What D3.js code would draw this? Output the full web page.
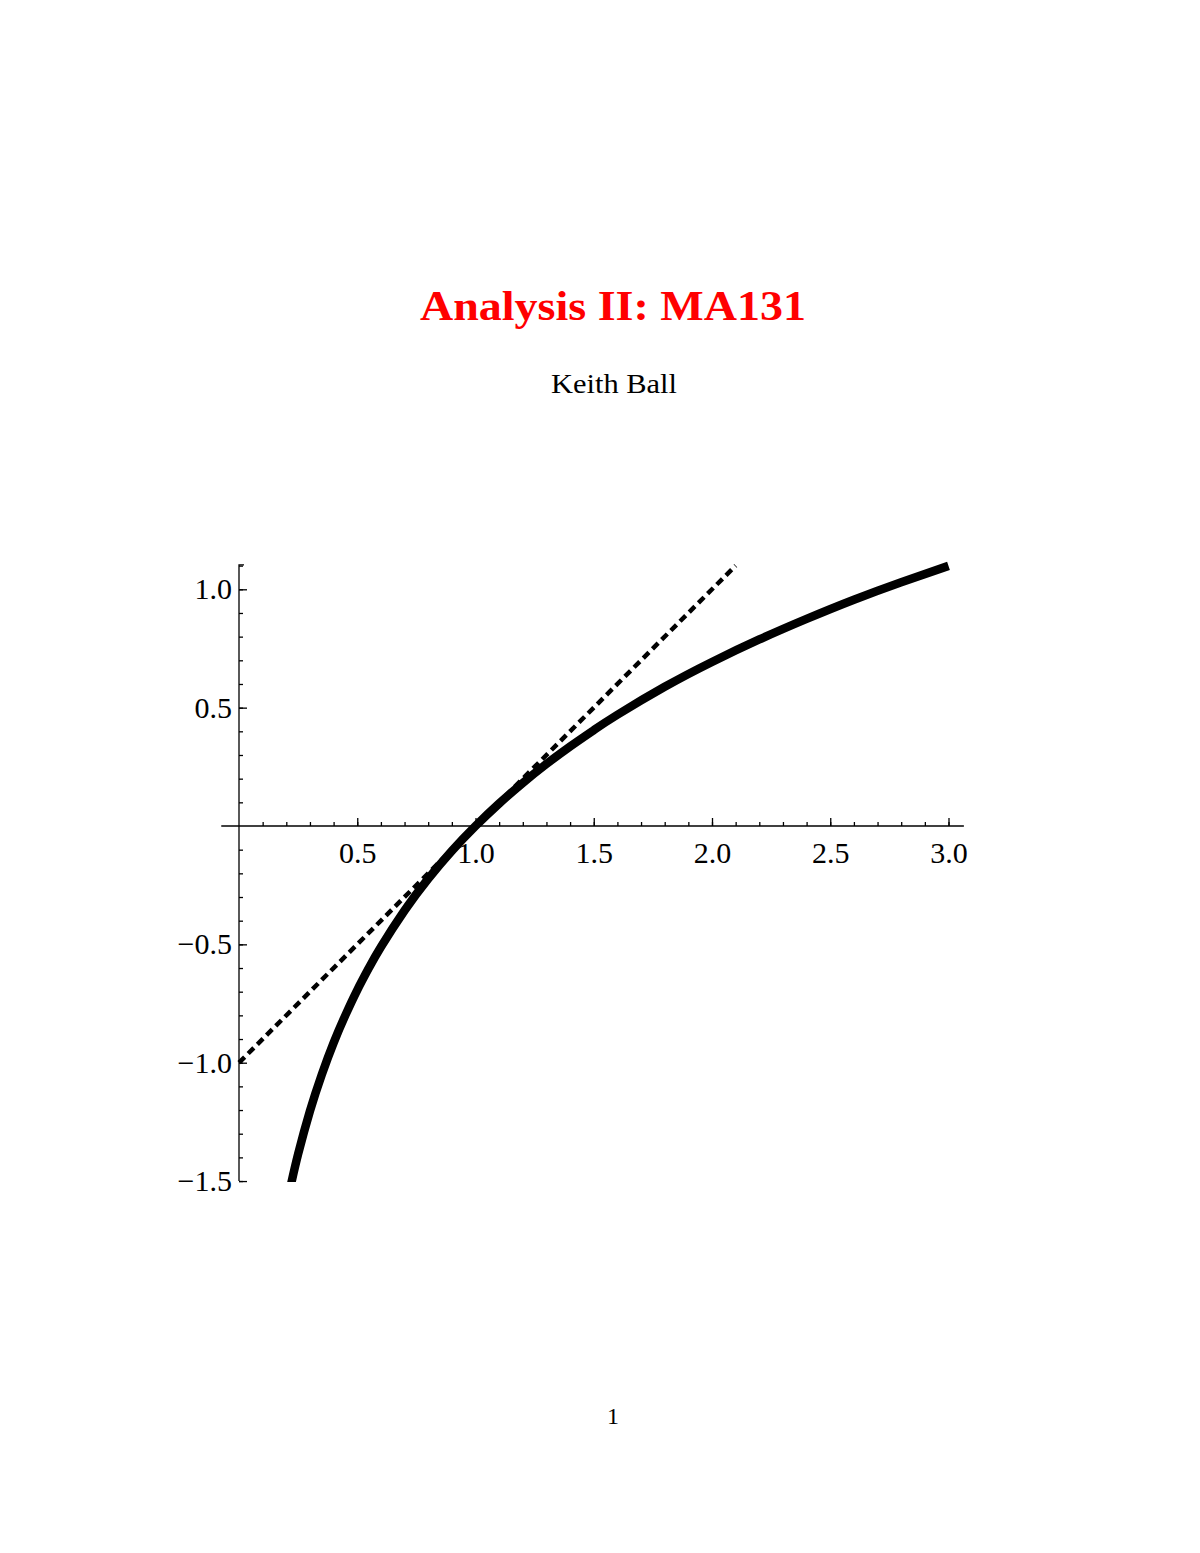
<!DOCTYPE html>
<html>
<head>
<meta charset="utf-8">
<script src="https://cdn.jsdelivr.net/npm/d3@7"></script>
<style>
  html, body { margin: 0; padding: 0; background: #fff; }
  svg { display: block; }
  .tick text { font-family: "Liberation Serif", "DejaVu Serif", serif; font-size: 30px; fill: #000; }
</style>
</head>
<body>
<svg id="page" width="1200" height="1553"></svg>
<script>
// curve
const curveX = [0.22, 0.25, 0.3, 0.35, 0.4, 0.45, 0.5, 0.55, 0.6, 0.7, 0.8, 0.9, 1.0,
                1.1, 1.2, 1.3, 1.4, 1.5, 1.6, 1.8, 2.0, 2.2, 2.4, 2.6, 2.8, 3.0];
const curveY = [-1.514, -1.386, -1.204, -1.050, -0.916, -0.799, -0.693, -0.598, -0.511, -0.357,
                -0.223, -0.105, 0, 0.095, 0.182, 0.262, 0.336, 0.405, 0.470, 0.588, 0.693,
                0.788, 0.875, 0.956, 1.030, 1.099];

// dashed line
const dashX = [0, 2.1];
const dashY = [-1, 1.1];

// ticks
const xMajor = [0.5, 1.0, 1.5, 2.0, 2.5, 3.0];
const yMajor = [-1.5, -1.0, -0.5, 0.5, 1.0];
const xMinor = d3.range(1, 31).map(i => i / 10);
const yMinor = d3.range(-15, 12).filter(i => i !== 0).map(i => i / 10);

const xExtent = [-0.075, 3.065];
const yExtent = [-1.5, 1.103];

const svg = d3.select("#page");

svg.append("text")
    .attr("x", 613).attr("y", 320)
    .attr("text-anchor", "middle")
    .attr("textLength", 386)
    .attr("lengthAdjust", "spacingAndGlyphs")
    .style("font-family", "'Liberation Serif', 'DejaVu Serif', serif")
    .style("font-weight", "bold")
    .style("font-size", "42px")
    .style("fill", "#ff0000")
    .text("Analysis II: MA131");

svg.append("text")
    .attr("x", 614).attr("y", 393)
    .attr("text-anchor", "middle")
    .attr("textLength", 126)
    .attr("lengthAdjust", "spacingAndGlyphs")
    .style("font-family", "'Liberation Serif', 'DejaVu Serif', serif")
    .style("font-size", "28px")
    .style("fill", "#000")
    .text("Keith Ball");

svg.append("text")
    .attr("x", 613).attr("y", 1424)
    .attr("text-anchor", "middle")
    .style("font-family", "'Liberation Serif', 'DejaVu Serif', serif")
    .style("font-size", "24px")
    .style("fill", "#000")
    .text("1");

const xscale = d3.scaleLinear().domain([0, 3]).range([239, 948.5]);
const yscale = d3.scaleLinear().domain([0, 1]).range([826, 589.3]);

const chart = svg.append("g");

// axis lines
chart.append("line")
    .attr("x1", xscale(xExtent[0])).attr("x2", xscale(xExtent[1]))
    .attr("y1", yscale(0)).attr("y2", yscale(0))
    .attr("stroke", "#000").attr("stroke-width", 1.3);

chart.append("path")
    .attr("d", `M${xscale(0) + 5},${yscale(yExtent[1])}H${xscale(0)}V${yscale(yExtent[0])}`)
    .attr("fill", "none")
    .attr("stroke", "#000").attr("stroke-width", 1.3);

const fmt = d => d3.format(".1f")(d).replace("-", "\u2212\u2009");

// x ticks
chart.append("g")
    .attr("transform", `translate(0, ${yscale(0)})`)
    .call(d3.axisBottom(xscale).tickValues(xMinor).tickSize(-4).tickFormat(""))
    .call(g => g.select(".domain").remove());

chart.append("g")
    .attr("transform", `translate(0, ${yscale(0)})`)
    .call(d3.axisBottom(xscale).tickValues(xMajor).tickSize(-8).tickPadding(16).tickFormat(fmt))
    .call(g => g.select(".domain").remove());

// y ticks
chart.append("g")
    .attr("transform", `translate(${xscale(0)}, 0)`)
    .call(d3.axisLeft(yscale).tickValues(yMinor).tickSize(-4).tickFormat(""))
    .call(g => g.select(".domain").remove());

chart.append("g")
    .attr("transform", `translate(${xscale(0)}, 0)`)
    .call(d3.axisLeft(yscale).tickValues(yMajor).tickSize(-8).tickPadding(7).tickFormat(fmt))
    .call(g => g.select(".domain").remove());

chart.selectAll(".tick line").attr("stroke", "#000").attr("stroke-width", 1.3);

// clip at the bottom of the plot range
svg.append("clipPath").attr("id", "plotclip")
    .append("rect")
    .attr("x", 0).attr("width", 1200)
    .attr("y", 0).attr("height", yscale(yExtent[0]) + 1);

const line = d3.line()
    .x(d => xscale(d[0]))
    .y(d => yscale(d[1]));

chart.append("path")
    .datum(d3.zip(dashX, dashY))
    .attr("d", line)
    .attr("fill", "none")
    .attr("stroke", "#000")
    .attr("stroke-width", 4.5)
    .attr("stroke-dasharray", "8,5");

chart.append("path")
    .datum(d3.zip(curveX, curveY))
    .attr("d", line.curve(d3.curveNatural))
    .attr("clip-path", "url(#plotclip)")
    .attr("fill", "none")
    .attr("stroke", "#000")
    .attr("stroke-width", 8.5);
</script>
</body>
</html>
